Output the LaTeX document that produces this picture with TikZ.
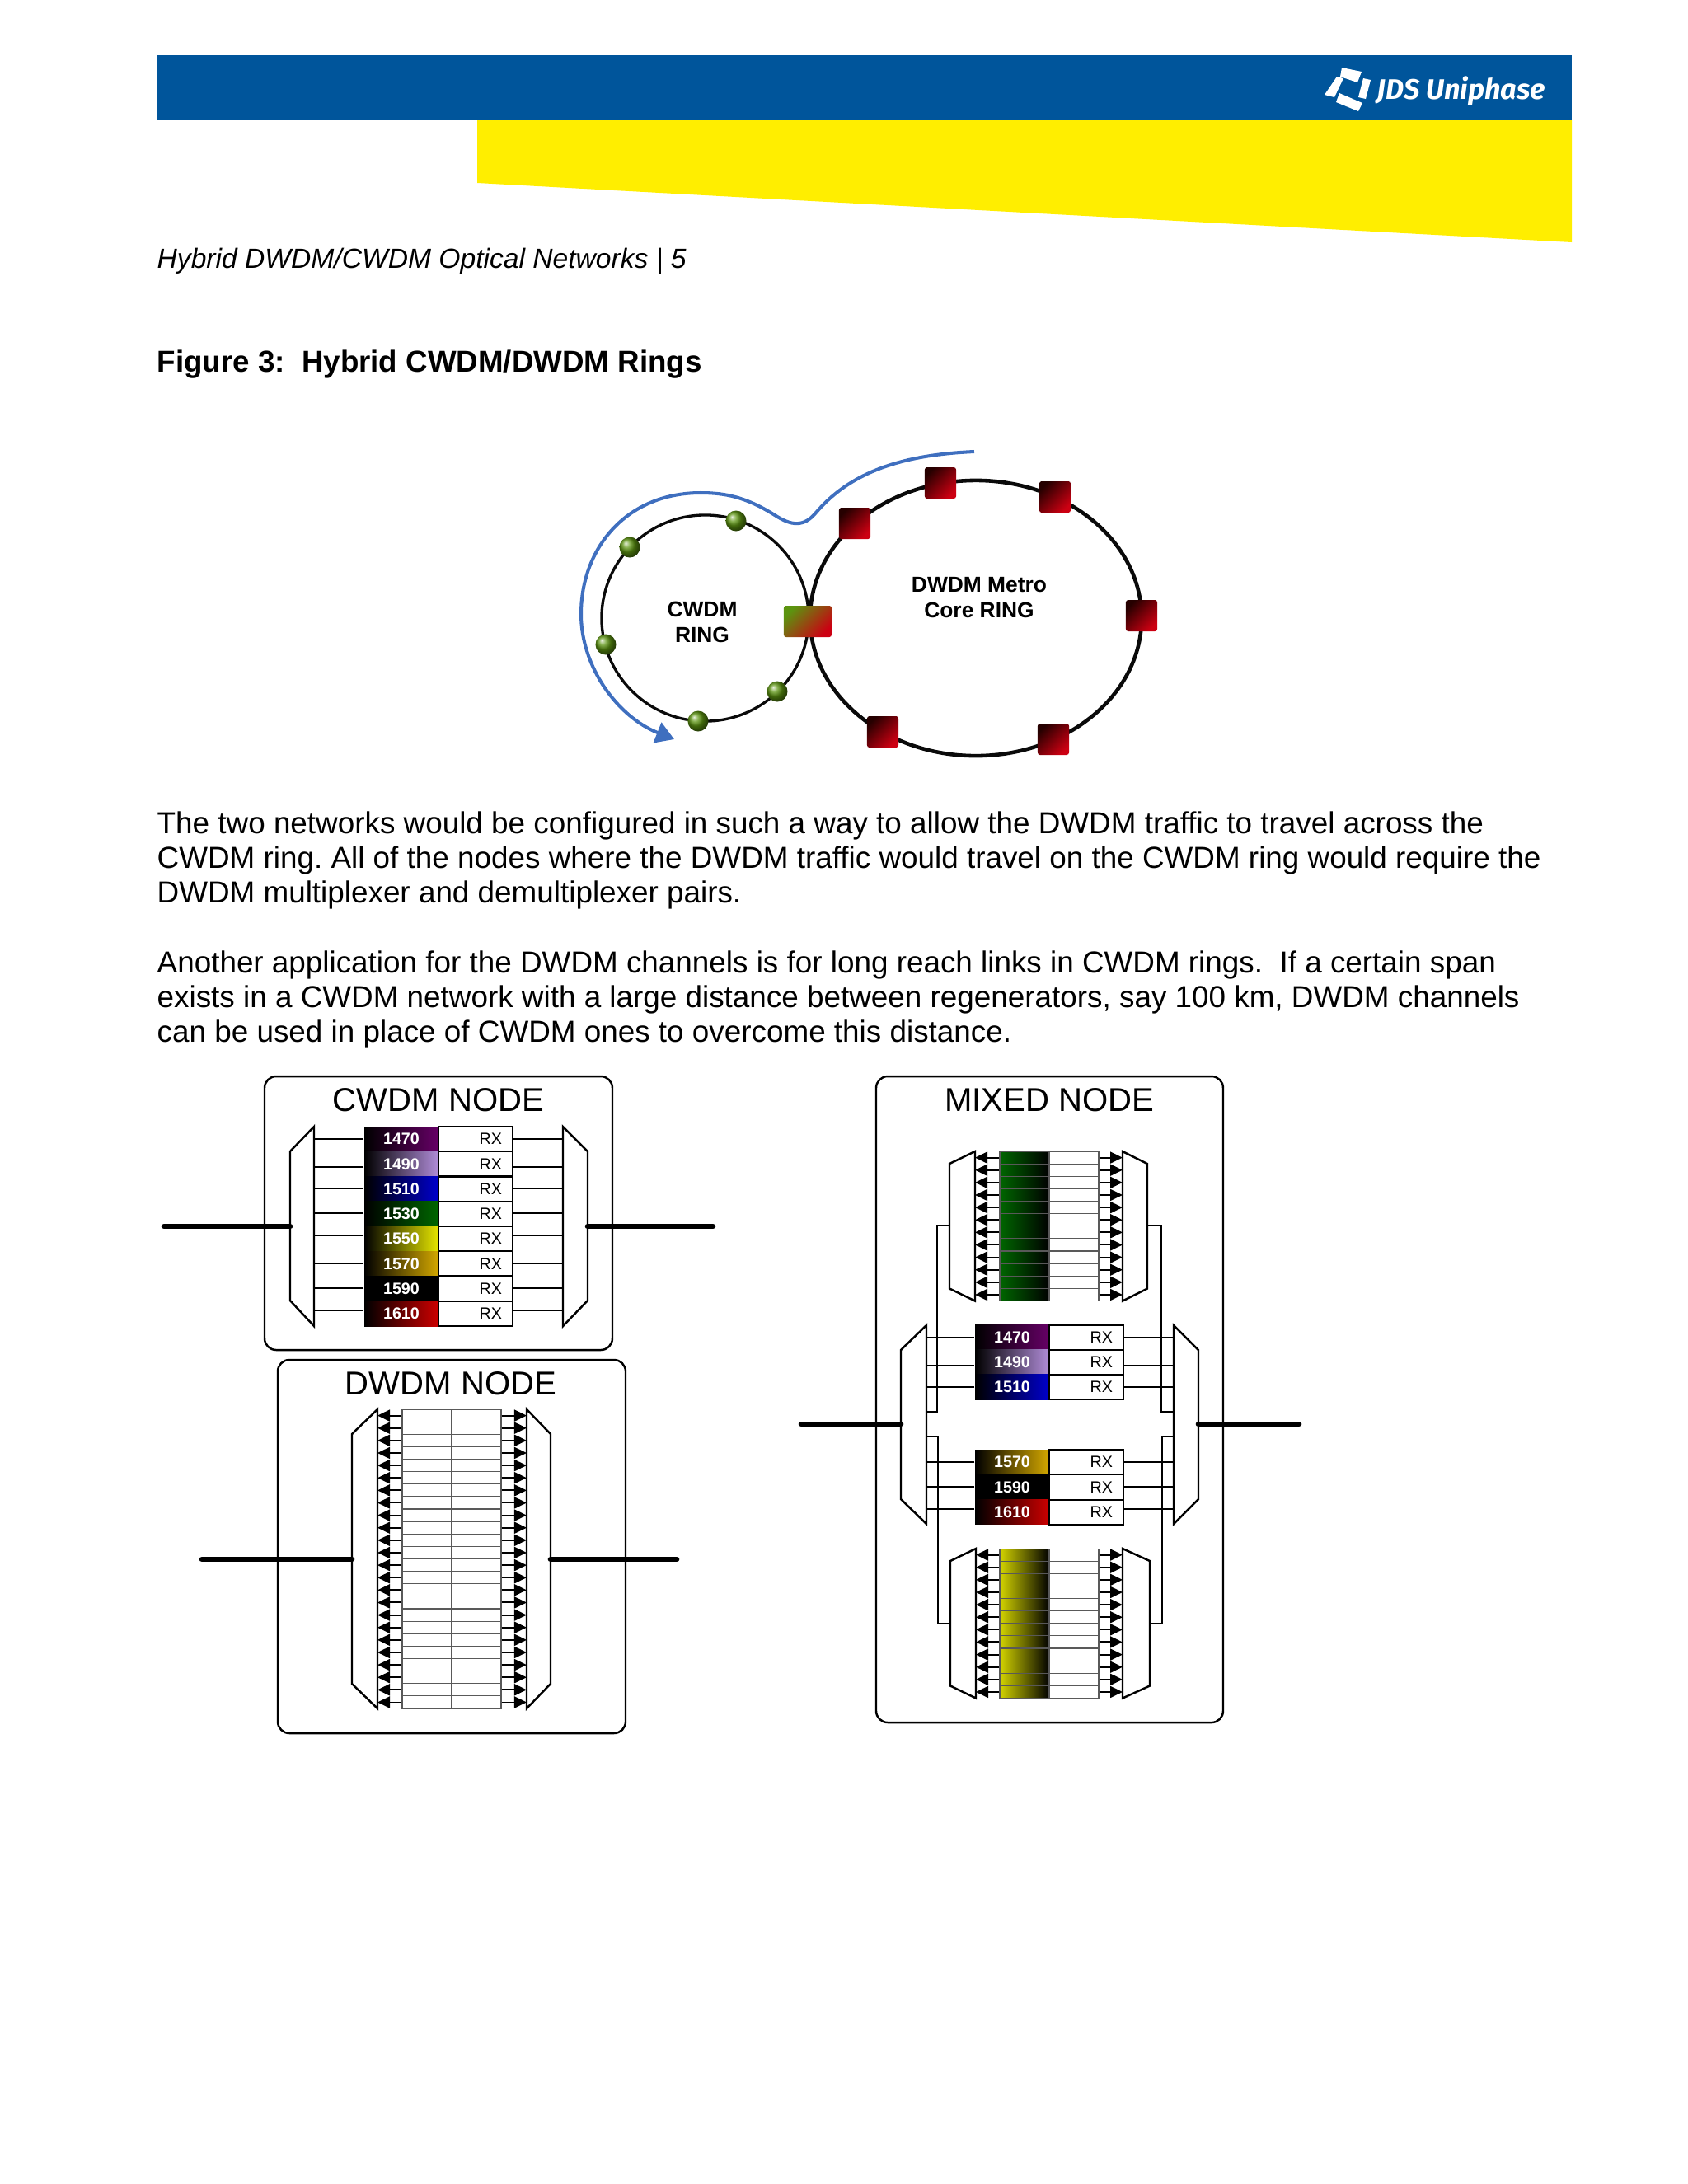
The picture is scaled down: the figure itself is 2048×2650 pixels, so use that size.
\documentclass[tikz,border=0pt]{standalone}
\usepackage{fontspec}
\setmainfont{Liberation Sans}
\newfontfamily\logofont{Fira Sans}
\usetikzlibrary{arrows.meta,shapes.geometric}
\frenchspacing
\definecolor{jdsblue}{HTML}{00559B}
\definecolor{jdsyellow}{HTML}{FFEE00}
\definecolor{pathblue}{HTML}{3F6FBF}
\definecolor{ring}{HTML}{0A0A0A}
\definecolor{ballgreen}{HTML}{5C9410}
\definecolor{stationred}{HTML}{CC0012}
\definecolor{c1470}{HTML}{660066}
\definecolor{c1490}{HTML}{B08CD8}
\definecolor{c1510}{HTML}{0000CC}
\definecolor{c1530}{HTML}{006600}
\definecolor{c1550}{HTML}{E6E600}
\definecolor{c1570}{HTML}{D4A800}
\definecolor{c1590}{HTML}{000000}
\definecolor{c1610}{HTML}{CC0000}
\tikzset{
  frame/.style={draw=black,line width=.7pt,rounded corners=.14cm},
  wire/.style={draw=black,line width=.6pt},
  muxbody/.style={draw=black,fill=white,line width=.7pt,line join=miter},
  fibre/.style={draw=black,line width=1.9pt,line cap=round},
  drop/.style={draw=black,line width=.55pt,-{Triangle[length=.15cm,width=.14cm]}},
  nodetitle/.style={font=\fontsize{11.4pt}{13pt}\selectfont,inner sep=0pt},
  bodytext/.style={anchor=west,align=left,inner sep=0pt,font=\fontsize{10.48pt}{11.95pt}\selectfont},
  ringtext/.style={align=center,inner sep=0pt,font=\fontsize{7.5pt}{8.8pt}\selectfont\bfseries},
  chancell/.style={inner sep=0pt,minimum height=.3025cm,text=white,font=\fontsize{5.6pt}{6pt}\selectfont\bfseries},
  rxcell/.style={draw=black,fill=white,line width=.6pt,inner ysep=0pt,inner xsep=.13cm,minimum height=.3025cm,align=right,font=\fontsize{5.6pt}{6pt}\selectfont},
  plaincell/.style={draw=black!65,line width=.3pt,fill=white,inner sep=0pt,minimum height=.151cm},
  greencell/.style={plaincell,left color=c1530,right color=black},
  yellowcell/.style={plaincell,left color=c1550!92!black,right color=black},
  greenball/.style={circle,inner sep=0pt,minimum size=.25cm,ball color=ballgreen},
  redstation/.style={rectangle,rounded corners=.8pt,inner sep=0pt,minimum width=.38cm,minimum height=.38cm,top color=black!85!red,middle color=stationred!85!black,bottom color=stationred,shading angle=45},
  mixstation/.style={redstation,minimum width=.58cm,top color=ballgreen,middle color=olive!80!red,bottom color=stationred,shading angle=45},
}
% one channel row: name, left, middle, right, y, wavelength
\newcommand{\chanrow}[6]{
  \pgfmathsetmacro\wa{(#3-#2)*.01}
  \pgfmathsetmacro\wb{(#4-#3)*.01}
  \node[chancell,minimum width=\wa cm,left color=black,right color=c#6] (#1-l) at ({(#2+#3)/2},{#5}) {#6};
  \node[rxcell,text width=\wb cm-.26cm] (#1-r) at ({(#3+#4)/2},{#5}) {RX};
}
\begin{document}
\begin{tikzpicture}[x=.01cm,y=-.01cm]
  \useasboundingbox (0,0) rectangle (2048,2650);
  % page header
  \fill[jdsyellow] (579,145) -- (1907,145) -- (1907,294) -- (579,222) -- cycle;
  \fill[jdsblue] (190,67) rectangle (1907,145);
  \fill[white] (1628,82) -- (1652,87) -- (1647,100) -- (1626,93) -- cycle;
  \fill[white] (1622,93) -- (1607,115) -- (1619,118) -- (1630,95) -- cycle;
  \fill[white] (1663,97) -- (1657,120) -- (1648,118) -- (1654,95) -- cycle;
  \fill[white] (1625,113) -- (1653,125) -- (1648,135) -- (1621,124) -- cycle;
  \node[anchor=west,inner sep=0pt,text=white,font=\logofont\fontsize{9.75pt}{12pt}\selectfont\bfseries\itshape] (logo) at (1670,110) {JDS Uniphase};
  \node[bodytext,font=\fontsize{9.56pt}{12pt}\selectfont\itshape] (running) at (190,317) {Hybrid DWDM/CWDM Optical Networks | 5};
  \node[bodytext,font=\fontsize{10.44pt}{12pt}\selectfont\bfseries] (figtitle) at (190,442) {Figure 3:\ \ Hybrid CWDM/DWDM Rings};
  \node[bodytext] (para1) at (190,1044) {The two networks would be configured in such a way to allow the DWDM traffic to travel across the\\CWDM ring. All of the nodes where the DWDM traffic would travel on the CWDM ring would require the\\DWDM multiplexer and demultiplexer pairs.};
  \node[bodytext] (para2) at (190,1213) {Another application for the DWDM channels is for long reach links in CWDM rings.\ \ If a certain span\\exists in a CWDM network with a large distance between regenerators, say 100 km, DWDM channels\\can be used in place of CWDM ones to overcome this distance.};
  % rings
  \node[ellipse,draw=ring,line width=.95pt,inner sep=0pt,minimum width=2.51cm,minimum height=2.5cm] (cwdmring) at (855.5,750) {};
  \node[ellipse,draw=ring,line width=1.3pt,inner sep=0pt,minimum width=4.02cm,minimum height=3.34cm] (metroring) at (1184,750) {};
  \draw[pathblue,line width=1.15pt,-{Triangle[length=.22cm,width=.26cm]}] (1182,548) .. controls (1090,552) and (1030,575) .. (990,622) .. controls (975,640) and (960,638) .. (940,625) .. controls (905,603) and (880,598) .. (850,598) .. controls (760,598) and (705,665) .. (705,745) .. controls (705,810) and (750,870) .. (818,897);
  \foreach \i/\xa/\ya in {1/764/664,2/893/632,3/735/782,4/943/839,5/847/875}
    \node[greenball] (ball\i) at (\xa,\ya) {};
  \foreach \i/\xa/\ya in {1/1141/586,2/1280/603,3/1037/635,4/1385/747,5/1071/888,6/1278/897}
    \node[redstation] (station\i) at (\xa,\ya) {};
  \node[mixstation] (hub) at (980,754) {};
  \node[ringtext] (cwdmlabel) at (852,755) {CWDM\\RING};
  \node[ringtext] (metrolabel) at (1188,725) {DWDM Metro\\Core RING};
  % CWDM node
  \draw[frame] (321,1306) rectangle (743,1638);
  \node[nodetitle] (cwtitle) at (532,1335) {CWDM NODE};
  \coordinate (cwL) at (381,1367);
  \coordinate (cwR) at (683,1367);
  \foreach \i/\lam/\wy in {1/1470/1382,2/1490/1416,3/1510/1442,4/1530/1472,5/1550/1499,6/1570/1533,7/1590/1563,8/1610/1590}{
    \chanrow{cw\i}{442}{532}{622}{1367+30.25*(\i-.5)}{\lam}
    \coordinate (cwt\i) at (0,\wy);
    \draw[wire] (cw\i-l.west |- cwt\i) -- (cwL |- cwt\i);
    \draw[wire] (cw\i-r.east |- cwt\i) -- (cwR |- cwt\i);
  }
  \draw[muxbody] (381,1367) -- (352,1397) -- (352,1578) -- (381,1609) -- cycle;
  \draw[muxbody] (683,1367) -- (713,1397) -- (713,1578) -- (683,1609) -- cycle;
  \coordinate (cwinL) at (352,1488);
  \coordinate (cwoutL) at (199,1488);
  \coordinate (cwinR) at (713,1488);
  \coordinate (cwoutR) at (865,1488);
  \draw[fibre] (cwoutL) -- (cwinL);
  \draw[fibre] (cwinR) -- (cwoutR);
  % DWDM node
  \draw[frame] (337,1650) rectangle (759,2103);
  \node[nodetitle] (dwtitle) at (547,1679) {DWDM NODE};
  % MIXED node
  \draw[frame] (1063,1306) rectangle (1484,2090);
  \node[nodetitle] (mxtitle) at (1273,1335) {MIXED NODE};
  \coordinate (mxinL) at (1093,1728);
  \coordinate (mxoutL) at (972,1728);
  \coordinate (mxinR) at (1454,1728);
  \coordinate (mxoutR) at (1576,1728);
  \coordinate (mxL) at (1124,1608);
  \coordinate (mxR) at (1424,1608);
  \draw[wire] (1152,1487) -- (1137,1487) -- (1137,1713) -- (1124,1713);
  \draw[wire] (1392,1487) -- (1409,1487) -- (1409,1713) -- (1424,1713);
  \draw[wire] (1124,1743) -- (1138,1743) -- (1138,1970) -- (1153,1970);
  \draw[wire] (1424,1743) -- (1410,1743) -- (1410,1970) -- (1395,1970);
  \draw[muxbody] (1124,1608) -- (1093,1638) -- (1093,1819) -- (1124,1849) -- cycle;
  \draw[muxbody] (1424,1608) -- (1454,1638) -- (1454,1819) -- (1424,1849) -- cycle;
  \foreach \i/\lam/\wy in {1/1470/1623,2/1490/1657,3/1510/1683}{
    \chanrow{mxa\i}{1183}{1273}{1363}{1608+30*(\i-.5)}{\lam}
    \coordinate (mxat\i) at (0,\wy);
    \draw[wire] (mxa\i-l.west |- mxat\i) -- (mxL |- mxat\i);
    \draw[wire] (mxa\i-r.east |- mxat\i) -- (mxR |- mxat\i);
  }
  \foreach \i/\lam/\wy in {1/1570/1774,2/1590/1804,3/1610/1831}{
    \chanrow{mxb\i}{1183}{1273}{1363}{1759+30.3*(\i-.5)}{\lam}
    \coordinate (mxbt\i) at (0,\wy);
    \draw[wire] (mxb\i-l.west |- mxbt\i) -- (mxL |- mxbt\i);
    \draw[wire] (mxb\i-r.east |- mxbt\i) -- (mxR |- mxbt\i);
  }
  % dense banks
  \foreach \nm/\xa/\xb/\xc/\mL/\mR/\oL/\oR/\yt/\n/\cs/\dy in {
      dw/488/548/608/458/639/427/668/1710/24/plaincell/30,
      mxu/1213/1273/1333/1183/1362/1152/1392/1397/12/greencell/15,
      mxd/1213/1273/1333/1184/1362/1153/1395/1879/12/yellowcell/15}{
    \pgfmathsetmacro\wa{(\xb-\xa)*.01}
    \pgfmathsetmacro\wb{(\xc-\xb)*.01}
    \pgfmathsetmacro\yb{\yt+15.125*\n}
    \foreach \i in {1,...,\n}{
      \node[\cs,minimum width=\wa cm] (\nm\i-l) at ({(\xa+\xb)/2},{\yt+15.125*(\i-.5)}) {};
      \node[plaincell,minimum width=\wb cm] (\nm\i-r) at ({(\xb+\xc)/2},{\yt+15.125*(\i-.5)}) {};
      \coordinate (\nm\i-ml) at (\mL,{\yt+15.125*(\i-.5)});
      \coordinate (\nm\i-mr) at (\mR,{\yt+15.125*(\i-.5)});
      \draw[drop] (\nm\i-l.west) -- (\nm\i-ml);
      \draw[drop] (\nm\i-r.east) -- (\nm\i-mr);
    }
    \draw[muxbody] (\mL,\yt) -- (\oL,\yt+\dy) -- (\oL,\yb-\dy) -- (\mL,\yb) -- cycle;
    \draw[muxbody] (\mR,\yt) -- (\oR,\yt+\dy) -- (\oR,\yb-\dy) -- (\mR,\yb) -- cycle;
  }
  \coordinate (dwinL) at (427,1892);
  \coordinate (dwoutL) at (245,1892);
  \coordinate (dwinR) at (668,1892);
  \coordinate (dwoutR) at (821,1892);
  \draw[fibre] (dwoutL) -- (dwinL);
  \draw[fibre] (dwinR) -- (dwoutR);
  \draw[fibre] (mxoutL) -- (mxinL);
  \draw[fibre] (mxinR) -- (mxoutR);
\end{tikzpicture}
\end{document}
